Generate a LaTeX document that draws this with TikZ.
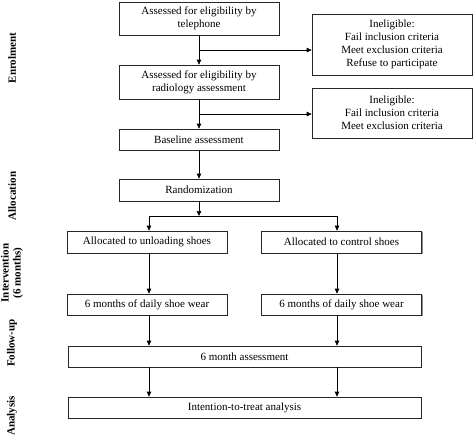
\documentclass[tikz,border=0pt]{standalone}
\usepackage{fontspec}
\setmainfont{Liberation Serif}
\usetikzlibrary{arrows.meta,shadows,calc}

\begin{document}
\begin{tikzpicture}[x=1pt,y=1pt,
  every node/.append style={font=\fontsize{11}{13}\selectfont},
  box/.style={draw=black!85,line width=.7pt,fill=white,align=center,inner sep=0pt,
    drop shadow={shadow xshift=1.4pt,shadow yshift=-1.4pt,fill=black!55,opacity=.8}},
  wide/.style={box,minimum width=160pt},
  phase/.style={rotate=90,align=center,font=\fontsize{11}{12}\selectfont\bfseries},
  arr/.style={-{Triangle[length=5pt,width=4.5pt]},line width=.7pt}]
\useasboundingbox (0,0) rectangle (474,-437);
% phases on the left
\node[phase] (enrol) at (12,-58) {Enrolment};
\node[phase] (alloc) at (12,-196) {Allocation};
\node[phase] (interv) at (12,-273) {Intervention\\(6 months)};
\node[phase] (follow) at (12,-343) {Follow-up};
\node[phase] (anal) at (12,-416) {Analysis};
% boxes
\node[wide,minimum height=33pt] (tel) at (199,-18.5) {Assessed for eligibility by\\telephone};
\node[wide,minimum height=61pt] (inel1) at (392,-44.5) {Ineligible:\\Fail inclusion criteria\\Meet exclusion criteria\\Refuse to participate};
\node[wide,minimum height=34pt] (radio) at (199,-82) {Assessed for eligibility by\\radiology assessment};
\node[wide,minimum height=50pt] (inel2) at (392,-113) {Ineligible:\\Fail inclusion criteria\\Meet exclusion criteria};
\node[wide,minimum height=21pt] (base) at (199,-139.5) {Baseline assessment};
\node[wide,minimum height=22pt] (rand) at (199,-190) {Randomization};
\node[wide,minimum height=22pt] (unl) at (147,-242) {Allocated to unloading shoes};
\node[wide,minimum height=22pt] (ctl) at (341.5,-242) {Allocated to control shoes};
\node[wide,minimum height=21pt] (wearA) at (147,-304.5) {6 months of daily shoe wear};
\node[wide,minimum height=21pt] (wearB) at (341.5,-304.5) {6 months of daily shoe wear};
\node[box,minimum width=353pt,minimum height=21pt] (fu) at (244.5,-356.5) {6 month assessment};
\node[box,minimum width=353pt,minimum height=21pt] (itt) at (244.5,-407.5) {Intention-to-treat analysis};
% connectors
\coordinate (out1) at ($(tel.south)!.5!(radio.north)$);
\coordinate (out2) at ($(radio.south)!.5!(base.north)$);
\coordinate (split) at (199,-216);
\coordinate (colL) at (149,0);
\coordinate (colR) at (337,0);
\draw[arr] (tel) -- (radio);
\draw[arr] (out1) -- (out1 -| inel1.west);
\draw[arr] (radio) -- (base);
\draw[arr] (out2) -- (out2 -| inel2.west);
\draw[arr] (base) -- (rand);
\draw[arr] (rand) -- (split);
\draw[arr] (split) -| (unl.north -| colL);
\draw[arr] (split) -| (ctl.north -| colR);
\foreach \c/\a/\b in {colL/unl/wearA,colR/ctl/wearB} {
  \draw[arr] (\a.south -| \c) -- (\b.north -| \c);
  \draw[arr] (\b.south -| \c) -- (fu.north -| \c);
  \draw[arr] (fu.south -| \c) -- (itt.north -| \c);
}
\end{tikzpicture}
\end{document}
